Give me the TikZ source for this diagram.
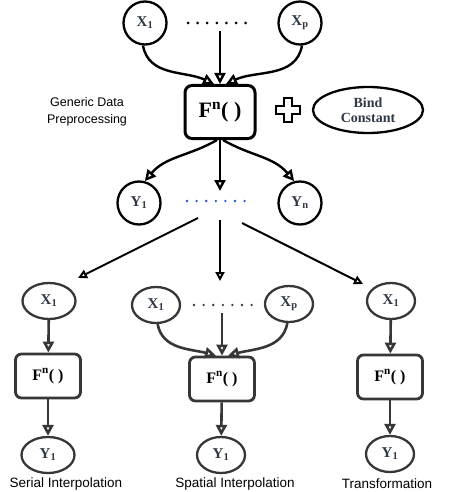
\documentclass[tikz,border=0pt]{standalone}
\usepackage{fontspec}
\setmainfont{Liberation Serif}
\newfontfamily\labfont{Liberation Sans}
\usetikzlibrary{shapes,arrows,arrows.meta}
\usetikzlibrary{positioning}
\definecolor{ink}{RGB}{55,55,55}
\definecolor{txtc}{RGB}{48,56,70}
\definecolor{dotblue}{RGB}{40,80,200}

\begin{document}
\begin{tikzpicture}[x=1pt,y=1pt,
	box/.style={draw, line width=3pt, rounded corners=7pt, minimum width=70pt, minimum height=53pt, font=\fontsize{22}{24}\selectfont\bfseries},
	sbox/.style={draw=ink, line width=2.8pt, rounded corners=6pt, minimum width=65pt, minimum height=44pt, font=\fontsize{16}{18}\selectfont\bfseries},
	circ/.style={draw, circle, line width=2.3pt, minimum size=43pt, inner sep=0pt, text=txtc, font=\fontsize{15}{17}\selectfont\bfseries},
	oval/.style={draw=ink, ellipse, line width=2.3pt, minimum width=48pt, minimum height=36pt, inner sep=0pt, text=txtc, font=\fontsize{15}{17}\selectfont\bfseries},
	lab/.style={font=\labfont\fontsize{13.5}{16}\selectfont, align=center},
	link/.style={line width=2.4pt, -{Triangle[open, length=11pt, width=11pt]}},
	slink/.style={line width=2pt, -{Triangle[open, length=9pt, width=9pt]}},
	blink/.style={link, draw=ink, line width=2.6pt},
	dots/.style={line width=3pt, dash pattern=on 0pt off 9.6pt, line cap=round}]

		\useasboundingbox (0,0) rectangle (474,-492);

		\node[circ] (tx1) at (145,-23) {X\textsubscript{1}};
		\node[circ] (txp) at (300,-23) {X\textsubscript{p}};
		\draw[dots] (188,-23) -- (252,-23);
		\coordinate (tgap) at (220,-31);
		\node[box] (tf) at (220,-112) {F\textsuperscript{n}( )};
		\node[lab, font=\labfont\fontsize{12.5}{17}\selectfont] (gen) at (87,-112) {Generic Data\\Preprocessing};
		\coordinate (plus) at (288,-110);
		\draw[line width=1.6pt, shift={(plus)}] (-4,12) -- (4,12) -- (4,4) -- (12,4) -- (12,-4) -- (4,-4) -- (4,-12) -- (-4,-12) -- (-4,-4) -- (-12,-4) -- (-12,4) -- (-4,4) -- cycle;
		\node[draw, ellipse, line width=2.3pt, minimum width=110pt, minimum height=46pt, inner sep=0pt, text=txtc, align=center, font=\fontsize{14}{15}\selectfont\bfseries] (bind) at (368,-110) {Bind\\Constant};

		\draw[link] (tx1.265) to[out=-80, in=155] ([xshift=-6pt]tf.north);
		\draw[link] (txp.275) to[out=-100, in=25] ([xshift=6pt]tf.north);
		\draw[link] (tgap) -- (tf.north);

		\node[circ] (ty1) at (139,-203) {Y\textsubscript{1}};
		\node[circ] (tyn) at (300,-203) {Y\textsubscript{n}};
		\draw[dots, dotblue, line width=2.6pt] (187,-201) -- (250,-201);
		\coordinate (tmid) at (220,-191);
		\draw[link] ([xshift=-3pt]tf.south) to[out=-150, in=50] (ty1.75);
		\draw[link] (tf.south) -- (tmid);
		\draw[link] ([xshift=3pt]tf.south) to[out=-30, in=130] (tyn.105);

		\coordinate (sl0) at (198,-218);
		\coordinate (sm0) at (220,-220);
		\coordinate (sr0) at (242,-223);
		\coordinate (sl1) at (78,-278);
		\coordinate (sm1) at (220,-281);
		\coordinate (sr1) at (363,-284);
		\draw[slink] (sl0) -- (sl1);
		\draw[slink] (sm0) -- (sm1);
		\draw[slink] (sr0) -- (sr1);

		\node[oval, minimum width=53pt] (lx1) at (49,-301) {X\textsubscript{1}};
		\node[sbox] (lf) at (48,-376) {F\textsuperscript{n}( )};
		\node[oval, minimum width=53pt] (ly1) at (48,-455) {Y\textsubscript{1}};
		\node[lab] (ltxt) at (66,-484) {Serial Interpolation};
		\draw[blink] (lx1) -- (lf);
		\draw[blink] (lf) -- (ly1);

		\node[oval] (mx1) at (156,-305) {X\textsubscript{1}};
		\node[oval] (mxp) at (289,-304) {X\textsubscript{p}};
		\draw[dots, ink, line width=2.6pt] (194,-305) -- (252,-305);
		\coordinate (mgap) at (222,-313);
		\node[sbox] (mf) at (222,-379) {F\textsuperscript{n}( )};
		\node[oval] (my1) at (221,-455) {Y\textsubscript{1}};
		\node[lab] (mtxt) at (235,-484) {Spatial Interpolation};
		\draw[blink] (mx1.275) to[out=-80, in=165] ([xshift=-6pt]mf.north);
		\draw[blink] (mxp.265) to[out=-100, in=15] ([xshift=6pt]mf.north);
		\draw[blink] (mgap) -- (mf.north);
		\draw[blink] (mf) -- (my1);

		\node[oval] (rx1) at (391,-301) {X\textsubscript{1}};
		\node[sbox] (rf) at (390,-377) {F\textsuperscript{n}( )};
		\node[oval] (ry1) at (390,-454) {Y\textsubscript{1}};
		\node[lab] (rtxt) at (387,-484) {Transformation};
		\draw[blink] (rx1) -- (rf);
		\draw[blink] (rf) -- (ry1);

\end{tikzpicture}
\end{document}
